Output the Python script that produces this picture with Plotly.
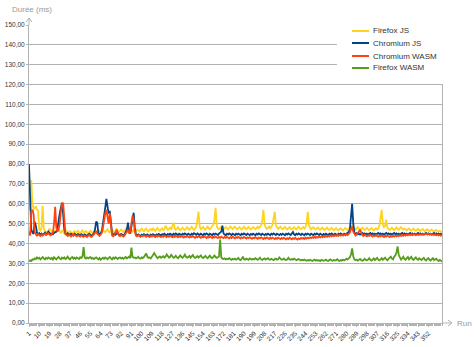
import plotly.graph_objects as go

# ---------------- data ----------------
firefox_js = [
    60.0, 57.0, 72.0, 60.0, 57.5, 57.8, 58.5, 57.2, 56.5, 47.0, 46.5, 48.0, 59.0, 47.5, 46.0, 45.5, 46.0, 45.8, 47.5, 46.8,
    46.0, 45.5, 46.4, 46.2, 45.8, 46.5, 47.2, 46.0, 45.2, 46.8, 45.5, 45.0, 46.0, 46.5, 45.3, 45.8, 46.2, 45.5, 45.0, 45.7,
    46.2, 45.4, 45.9, 46.5, 45.6, 45.1, 46.0, 46.6, 45.4, 45.8, 46.3, 45.5, 45.0, 45.9, 46.4, 45.6, 45.2, 46.0, 46.7, 45.5,
    46.0, 45.6, 46.3, 45.8, 46.5, 47.0, 46.2, 45.7, 46.4, 47.2, 46.0, 45.6, 46.2, 46.8, 46.1, 45.7, 46.6, 47.4, 46.3, 45.9,
    46.5, 47.0, 46.2, 45.8, 46.6, 47.3, 46.4, 45.9, 46.7, 47.5, 46.5, 46.0, 46.8, 47.4, 46.3, 47.0, 46.6, 46.0, 46.9, 47.5,
    46.8, 46.2, 47.0, 47.6, 46.5, 46.1, 46.9, 47.3, 46.6, 47.8, 46.9, 46.4, 47.2, 47.8, 46.8, 46.3, 47.1, 47.6, 46.7, 47.2,
    49.0, 47.5, 46.8, 47.4, 48.0, 47.0, 48.5, 50.5, 47.8, 46.9, 47.5, 48.2, 47.1, 46.6, 47.4, 48.0, 47.2, 46.8, 47.6, 48.3,
    47.3, 46.9, 47.7, 48.4, 47.4, 46.8, 47.6, 48.2, 52.0, 56.0, 48.5, 47.2, 47.8, 48.4, 47.5, 47.0, 47.8, 48.5, 47.6, 47.1,
    47.9, 48.6, 49.5, 52.0, 58.0, 48.8, 47.5, 47.2, 47.9, 48.4, 47.6, 47.0, 47.8, 48.3, 47.5, 47.1, 47.9, 48.6, 47.7, 47.2,
    48.0, 48.5, 47.6, 47.1, 47.8, 48.3, 47.5, 47.0, 47.9, 48.5, 47.6, 47.2, 47.9, 48.4, 47.5, 47.1, 47.8, 48.3, 47.6, 47.2,
    47.9, 48.5, 47.7, 48.2, 49.0, 51.5, 57.0, 50.0, 48.0, 47.4, 48.1, 48.6, 47.7, 48.2, 49.5, 52.0, 56.0, 49.0, 47.8, 47.3,
    48.0, 48.5, 47.6, 47.2, 47.9, 48.4, 47.5, 47.1, 47.8, 48.2, 47.4, 47.0, 47.7, 48.3, 47.5, 47.1, 47.8, 48.4, 47.6, 47.2,
    47.9, 48.3, 47.5, 48.2, 50.0, 56.0, 49.0, 47.6, 47.1, 47.8, 48.2, 47.4, 47.0, 47.7, 48.1, 47.3, 46.9, 47.6, 48.0, 47.2,
    46.8, 47.5, 48.0, 47.2, 46.8, 47.4, 47.9, 47.1, 46.7, 47.3, 47.8, 47.0, 46.6, 47.2, 47.7, 47.0, 46.6, 47.3, 47.8, 47.2,
    46.9, 47.5, 48.0, 48.8, 49.0, 48.2, 47.4, 47.0, 47.6, 48.2, 47.3, 46.9, 47.5, 48.0, 47.2, 46.8, 47.4, 47.9, 47.1, 46.7,
    47.3, 47.8, 47.0, 46.6, 47.2, 47.7, 47.0, 47.4, 49.0, 52.0, 57.0, 49.5, 48.0, 49.0, 52.0, 47.8, 47.2, 46.8, 47.4, 48.0,
    47.2, 46.8, 47.5, 48.1, 47.3, 46.9, 47.6, 48.2, 47.4, 47.0, 47.5, 47.0, 46.6, 47.2, 47.6, 46.9, 46.5, 47.1, 47.5, 46.8,
    46.4, 47.0, 47.4, 46.7, 46.3, 46.9, 47.3, 46.6, 46.2, 46.8, 47.2, 46.5, 46.1, 46.7, 47.0, 46.4, 46.0, 46.6, 46.9, 46.2,
    45.9, 46.4, 46.0, 45.6,
]

chromium_js = [
    80.0, 62.0, 47.0, 45.5, 44.8, 51.0, 49.0, 45.5, 44.6, 45.2, 44.5, 45.0, 44.3, 44.8, 45.5, 44.6, 45.0, 46.0, 45.2, 44.7,
    45.0, 44.6, 45.3, 45.8, 46.0, 47.5, 52.0, 55.0, 58.0, 60.5, 55.0, 47.0, 45.0, 44.5, 45.2, 44.7, 44.3, 45.0, 44.6, 44.2,
    44.9, 44.5, 44.1, 44.8, 44.4, 44.0, 44.7, 44.3, 43.9, 44.6, 44.2, 43.8, 44.5, 44.9, 44.3, 44.0, 44.6, 45.0, 47.0, 51.0,
    50.5, 45.0, 44.5, 45.2, 46.0, 50.0, 53.0, 58.0, 62.5, 57.0, 55.0, 56.5, 48.0, 45.0, 44.5, 45.0, 44.4, 44.8, 45.3, 44.6,
    44.2, 44.8, 44.4, 44.0, 44.6, 45.5, 47.0, 50.5, 46.0, 45.0, 49.0, 53.0, 55.5, 48.0, 44.5, 44.0, 44.6, 44.2, 43.9, 44.5,
    44.1, 44.7, 44.3, 44.0, 44.6, 44.2, 43.8, 44.5, 44.1, 44.7, 44.3, 43.9, 44.6, 44.2, 44.8, 44.4, 44.0, 44.7, 44.3, 44.9,
    44.5, 44.1, 44.8, 44.4, 45.0, 44.6, 44.2, 44.9, 44.5, 45.1, 44.7, 44.3, 45.0, 44.6, 44.2, 44.9, 44.5, 45.1, 44.7, 44.3,
    45.0, 44.6, 44.2, 44.9, 44.5, 45.2, 44.8, 44.4, 45.1, 44.7, 44.3, 45.0, 44.6, 44.2, 44.9, 44.5, 45.1, 44.7, 44.3, 45.0,
    44.6, 44.2, 44.9, 44.5, 45.0, 44.7, 44.3, 45.0, 45.5, 46.0, 49.0, 45.0, 44.6, 44.2, 44.9, 44.5, 45.1, 44.7, 44.3, 45.0,
    44.6, 44.2, 44.9, 44.5, 45.0, 44.6, 44.2, 44.9, 44.5, 45.1, 44.7, 44.3, 45.0, 44.6, 44.2, 44.8, 44.4, 45.0, 44.6, 44.2,
    44.9, 44.5, 45.1, 44.7, 44.3, 45.0, 44.6, 44.2, 44.8, 44.4, 45.0, 44.6, 44.2, 44.9, 44.5, 45.1, 44.7, 44.3, 45.0, 44.6,
    44.2, 44.8, 44.4, 45.0, 44.6, 44.2, 44.9, 44.5, 45.1, 44.7, 44.3, 45.0, 45.8, 44.6, 44.2, 44.9, 44.5, 45.1, 44.7, 44.3,
    45.0, 44.6, 44.2, 44.9, 44.5, 45.0, 44.7, 44.3, 45.0, 44.6, 44.2, 44.9, 44.5, 45.1, 44.7, 44.3, 45.0, 44.6, 44.2, 44.8,
    44.4, 45.0, 44.6, 44.2, 44.9, 44.5, 45.1, 44.7, 44.3, 45.0, 44.6, 44.2, 44.9, 44.5, 45.1, 44.7, 44.3, 45.0, 44.6, 44.9,
    45.3, 45.8, 47.0, 52.0, 60.0, 50.0, 45.5, 44.8, 45.2, 44.6, 45.0, 44.5, 44.9, 45.3, 44.7, 45.1, 44.6, 45.0, 44.5, 44.9,
    45.3, 44.7, 45.1, 44.6, 45.0, 44.5, 44.9, 45.3, 44.7, 45.1, 44.6, 45.0, 44.5, 44.9, 45.3, 44.7, 45.1, 44.6, 45.0, 44.5,
    44.9, 45.3, 44.7, 45.1, 44.6, 45.0, 44.5, 44.9, 45.3, 44.7, 45.1, 44.6, 45.0, 44.5, 44.9, 45.3, 44.7, 45.1, 44.6, 45.0,
    44.5, 44.9, 45.3, 44.7, 45.1, 44.6, 45.0, 44.5, 44.9, 45.3, 44.7, 45.1, 44.6, 45.0, 44.5, 44.9, 45.3, 44.7, 45.1, 44.6,
    45.0, 44.6, 44.9, 44.5,
]

chromium_wasm = [
    46.0, 44.0, 56.0, 57.0, 55.0, 46.0, 44.5, 44.0, 44.8, 44.2, 43.8, 44.5, 44.0, 44.6, 45.0, 44.3, 44.8, 45.2, 44.5, 44.1,
    44.6, 45.5, 50.0, 58.5, 48.0, 46.0, 47.0, 50.0, 56.0, 60.0, 60.5, 52.0, 45.0, 44.2, 43.8, 44.5, 44.0, 43.6, 44.3, 43.9,
    44.4, 44.0, 43.6, 44.2, 43.8, 43.5, 44.1, 43.7, 43.4, 44.0, 43.6, 43.3, 43.9, 44.3, 43.7, 43.4, 44.0, 44.5, 45.0, 46.0,
    45.0, 44.2, 43.8, 44.5, 45.5, 48.0, 52.0, 55.0, 57.0, 54.0, 50.0, 55.5, 47.0, 44.0, 43.6, 44.2, 45.0, 47.0, 45.0, 44.0,
    43.7, 44.3, 43.9, 43.5, 44.1, 44.8, 46.0, 47.0, 45.0, 46.0, 50.0, 54.0, 52.0, 46.0, 44.0, 43.6, 44.2, 43.8, 43.4, 44.0,
    43.6, 44.2, 43.8, 43.4, 44.0, 43.7, 43.3, 43.9, 43.5, 44.1, 43.7, 43.3, 43.9, 43.5, 44.0, 43.6, 43.2, 43.8, 43.4, 44.0,
    43.6, 43.2, 43.8, 43.4, 43.9, 43.5, 43.1, 43.7, 43.3, 43.9, 43.5, 43.1, 43.7, 43.3, 43.8, 43.4, 43.0, 43.6, 43.2, 43.8,
    43.4, 43.0, 43.6, 43.2, 43.7, 43.3, 42.9, 43.5, 43.1, 43.7, 43.3, 42.9, 43.5, 43.1, 43.6, 43.2, 42.8, 43.4, 43.0, 43.6,
    43.2, 42.8, 43.4, 43.0, 43.5, 43.1, 42.7, 43.3, 42.9, 43.5, 43.1, 42.7, 43.3, 42.9, 43.4, 43.0, 42.6, 43.2, 42.8, 43.4,
    43.0, 42.6, 43.2, 42.8, 43.3, 42.9, 42.5, 43.1, 42.7, 43.3, 42.9, 42.5, 43.1, 42.7, 43.2, 42.8, 42.4, 43.0, 42.6, 43.2,
    42.8, 42.4, 43.0, 42.6, 43.1, 42.7, 42.3, 42.9, 42.5, 43.1, 42.7, 42.3, 42.9, 42.5, 43.0, 42.6, 42.2, 42.8, 42.4, 43.0,
    42.6, 42.2, 42.8, 42.4, 42.9, 42.5, 42.1, 42.7, 42.3, 42.9, 42.5, 42.1, 42.7, 42.3, 42.8, 42.4, 42.0, 42.6, 42.2, 42.8,
    42.4, 42.8, 42.3, 42.9, 42.5, 43.0, 42.6, 43.1, 42.7, 43.2, 42.8, 43.3, 42.9, 43.4, 43.0, 43.5, 43.1, 43.6, 43.2, 43.7,
    43.3, 43.8, 43.4, 43.9, 43.5, 44.0, 43.6, 44.1, 43.7, 44.2, 43.8, 44.3, 43.9, 44.4, 44.0, 44.4, 44.0, 44.5, 44.1, 44.6,
    44.2, 44.8, 45.5, 47.0, 48.5, 46.0, 44.5, 44.0, 44.6, 45.2, 46.0, 47.0, 45.0, 44.2, 43.8, 44.4, 44.0, 43.6, 44.2, 43.8,
    44.3, 43.9, 43.5, 44.1, 43.7, 44.2, 43.8, 43.4, 44.0, 43.6, 44.1, 43.7, 43.3, 43.9, 43.5, 44.0, 43.6, 43.2, 43.8, 43.4,
    43.9, 43.5, 44.0, 43.6, 44.1, 43.7, 44.2, 43.8, 44.3, 43.9, 44.4, 44.0, 44.5, 44.1, 44.6, 44.2, 44.7, 44.3, 44.8, 44.4,
    44.2, 44.6, 44.3, 44.7, 44.4, 44.8, 44.5, 44.9, 44.6, 45.0, 44.6, 44.9, 44.5, 44.8, 44.4, 44.7, 44.3, 44.6, 44.2, 44.5,
    44.1, 44.4, 44.0, 44.3,
]

firefox_wasm = [
    31.0, 31.5, 31.2, 32.0, 31.8, 32.5, 32.2, 33.0, 32.4, 32.8, 32.0, 32.6, 33.2, 32.5, 32.0, 32.8, 32.3, 33.0, 32.5, 32.2,
    32.8, 32.0, 33.1, 32.4, 32.0, 32.7, 33.3, 32.5, 32.1, 32.9, 32.4, 33.0, 32.2, 32.6, 33.4, 32.5, 32.0, 32.8, 33.2, 32.4,
    32.9, 32.3, 33.0, 32.6, 32.2, 33.1, 32.7, 33.5, 38.2, 32.8, 32.4, 33.0, 32.5, 32.9, 33.2, 32.4, 32.8, 32.2, 32.6, 33.0,
    32.5, 32.0, 32.7, 31.8, 32.4, 32.9, 32.3, 33.0, 32.6, 32.1, 32.8, 33.2, 32.5, 32.0, 32.9, 32.4, 33.1, 32.6, 32.2, 32.8,
    33.0, 32.4, 32.9, 32.3, 32.7, 33.2, 32.5, 32.9, 33.4, 32.6, 38.0, 33.2, 32.8, 33.0, 32.5, 32.9, 33.3, 32.6, 32.4, 33.0,
    32.7, 33.2, 34.0, 35.0, 33.4, 32.8, 33.0, 32.5, 33.3, 34.0, 35.2, 34.2, 33.0, 32.6, 33.1, 33.5, 32.8, 33.0, 33.6, 32.9,
    33.4, 34.5, 33.5, 32.9, 33.2, 34.3, 33.6, 32.8, 33.1, 33.8, 33.0, 32.6, 33.4, 34.0, 33.2, 32.8, 33.5, 34.4, 33.3, 32.9,
    33.2, 33.8, 32.9, 33.4, 34.2, 33.3, 32.8, 33.1, 33.7, 32.9, 33.3, 34.0, 33.1, 32.7, 33.2, 33.8, 33.0, 32.6, 33.4, 33.9,
    33.0, 32.7, 33.3, 34.0, 33.2, 32.8, 33.1, 33.5, 42.0, 33.0, 32.4, 32.2, 32.5, 32.0, 32.3, 32.1, 32.6, 32.0, 31.8, 32.3,
    32.0, 32.4, 31.9, 32.2, 32.8, 32.0, 31.7, 32.3, 33.4, 32.1, 31.9, 32.4, 32.0, 31.8, 32.5, 32.1, 31.9, 32.3, 32.0, 32.6,
    32.1, 31.8, 32.3, 32.9, 32.0, 31.7, 32.2, 32.5, 31.9, 32.1, 32.6, 32.0, 31.8, 32.3, 32.0, 31.6, 32.2, 32.4, 31.9, 32.1,
    33.0, 32.2, 31.8, 32.0, 32.5, 31.9, 31.7, 32.1, 32.8, 32.0, 31.8, 32.2, 31.9, 32.4, 32.0, 31.6, 31.9, 32.2, 31.8, 31.5,
    31.8, 31.6, 31.9, 31.5, 31.3, 31.7, 31.4, 31.8, 31.5, 31.2, 31.6, 31.9, 31.4, 31.7, 31.3, 31.6, 31.2, 31.8, 31.5, 31.3,
    31.6, 31.9, 31.4, 31.2, 31.7, 32.0, 31.5, 31.3, 31.8, 31.4, 31.6, 32.1, 31.5, 31.2, 31.7, 31.4, 31.9, 31.5, 31.8, 32.4,
    31.9, 32.6, 33.0, 34.5, 37.5, 33.5, 32.0, 31.6, 31.9, 31.4, 31.8, 32.2, 31.6, 31.3, 31.7, 32.3, 31.8, 31.5, 31.9, 32.6,
    31.8, 31.4, 31.9, 32.5, 31.7, 32.2, 32.8, 31.9, 31.5, 32.0, 32.6, 31.8, 32.2, 32.9, 32.0, 31.6, 32.3, 32.7, 33.4, 32.4,
    32.0, 33.5, 34.0, 35.5, 38.5, 34.2, 32.5, 31.9, 32.6, 33.4, 32.2, 31.8, 32.7, 33.2, 32.0, 32.6, 33.3, 32.1, 31.7, 32.5,
    33.0, 32.2, 31.8, 32.6, 32.0, 31.7, 32.3, 32.8, 31.9, 31.5, 32.2, 32.7, 31.8, 31.4, 32.1, 32.6, 31.7, 32.0, 32.4, 31.6,
    31.2, 31.8, 31.4, 31.0,
]

series_names = ["Firefox JS", "Chromium JS", "Chromium WASM", "Firefox WASM"]
series_colors = ["#FFD320", "#004586", "#FF420E", "#579D1C"]
series_values = [firefox_js, chromium_js, chromium_wasm, firefox_wasm]

runs = list(range(1, len(firefox_js) + 1))
x_tick_vals = list(range(1, 353, 9))
x_tick_text = [str(v) for v in x_tick_vals]
y_tick_vals = list(range(0, 151, 10))

# ---------------- layout geometry ----------------
W, H = 474, 347
ML, MR, MT, MB = 29, 32, 25, 24
PW, PH = W - ML - MR, H - MT - MB


def px2x(px):
    return (px - ML) / PW


def py2y(py):
    return (H - MB - py) / PH


FONT = "Liberation Sans, Arial, sans-serif"
AXIS_GREY = "#b3b3b3"
TEXT_GREY = "#999999"

fig = go.Figure()
for name, color, vals in zip(series_names, series_colors, series_values):
    fig.add_trace(go.Scatter(x=runs, y=vals, mode="lines", name=name,
                             line=dict(color=color, width=1.8),
                             showlegend=False))

fig.update_layout(
    width=W, height=H,
    margin=dict(l=ML, r=MR, t=MT, b=MB),
    paper_bgcolor="white", plot_bgcolor="white",
    separators=", ",
    font=dict(family=FONT, size=7, color="#333333"),
    showlegend=False,
)

fig.update_xaxes(
    range=[1, len(runs)],
    tickmode="array", tickvals=x_tick_vals, ticktext=x_tick_text,
    tickangle=-45, tickfont=dict(size=6.5, color="#333333"),
    showgrid=False, zeroline=False,
    showline=True, linecolor=AXIS_GREY, linewidth=1,
    ticks="outside", ticklen=3, tickcolor=AXIS_GREY,
    minor=dict(dtick=1, ticks="outside", ticklen=2, tickcolor=AXIS_GREY, showgrid=False),
    automargin=False,
)

fig.update_yaxes(
    range=[0, 150],
    tickmode="array", tickvals=y_tick_vals, tickformat=".2f",
    tickfont=dict(size=6.5, color="#333333"),
    showgrid=True, gridcolor=AXIS_GREY, gridwidth=1,
    zeroline=False,
    showline=True, linecolor=AXIS_GREY, linewidth=1, mirror=True,
    ticks="outside", ticklen=2, tickcolor=AXIS_GREY,
    automargin=False,
)

shapes = []
# white legend area covering gridlines
shapes.append(dict(type="rect", xref="paper", yref="paper",
                   x0=px2x(337), x1=px2x(447), y0=py2y(84), y1=py2y(20),
                   fillcolor="white", line=dict(width=0), layer="above"))
# y-axis arrow
shapes.append(dict(type="line", xref="paper", yref="paper",
                   x0=0, x1=0, y0=1, y1=py2y(18),
                   line=dict(color=AXIS_GREY, width=1)))
shapes.append(dict(type="path", xref="paper", yref="paper",
                   path=f"M {px2x(ML-3)},{py2y(22)} L {px2x(ML)},{py2y(18)} L {px2x(ML+3)},{py2y(22)}",
                   line=dict(color=AXIS_GREY, width=1)))
# x-axis arrow
shapes.append(dict(type="line", xref="paper", yref="paper",
                   x0=1, x1=px2x(452), y0=0, y1=0,
                   line=dict(color=AXIS_GREY, width=1)))
shapes.append(dict(type="path", xref="paper", yref="paper",
                   path=f"M {px2x(448)},{py2y(H-MB-3)} L {px2x(452)},{py2y(H-MB)} L {px2x(448)},{py2y(H-MB+3)}",
                   line=dict(color=AXIS_GREY, width=1)))

annotations = []
annotations.append(dict(text="Durée (ms)", xref="paper", yref="paper",
                        x=px2x(10), y=py2y(10), xanchor="left", yanchor="middle",
                        showarrow=False, font=dict(size=8, color=TEXT_GREY, family=FONT)))
annotations.append(dict(text="Run", xref="paper", yref="paper",
                        x=px2x(455), y=0, xanchor="left", yanchor="middle",
                        showarrow=False, font=dict(size=8, color=TEXT_GREY, family=FONT)))

# manual legend
legend_rows = [31, 43, 56, 68]
for name, color, yy in zip(series_names, series_colors, legend_rows):
    shapes.append(dict(type="line", xref="paper", yref="paper",
                       x0=px2x(352), x1=px2x(369), y0=py2y(yy), y1=py2y(yy),
                       line=dict(color=color, width=2), layer="above"))
    annotations.append(dict(text=name, xref="paper", yref="paper",
                            x=px2x(371), y=py2y(yy), xanchor="left", yanchor="middle",
                            showarrow=False, font=dict(size=8, color="#333333", family=FONT)))

fig.update_layout(shapes=shapes, annotations=annotations)

fig.write_html("out.html")
